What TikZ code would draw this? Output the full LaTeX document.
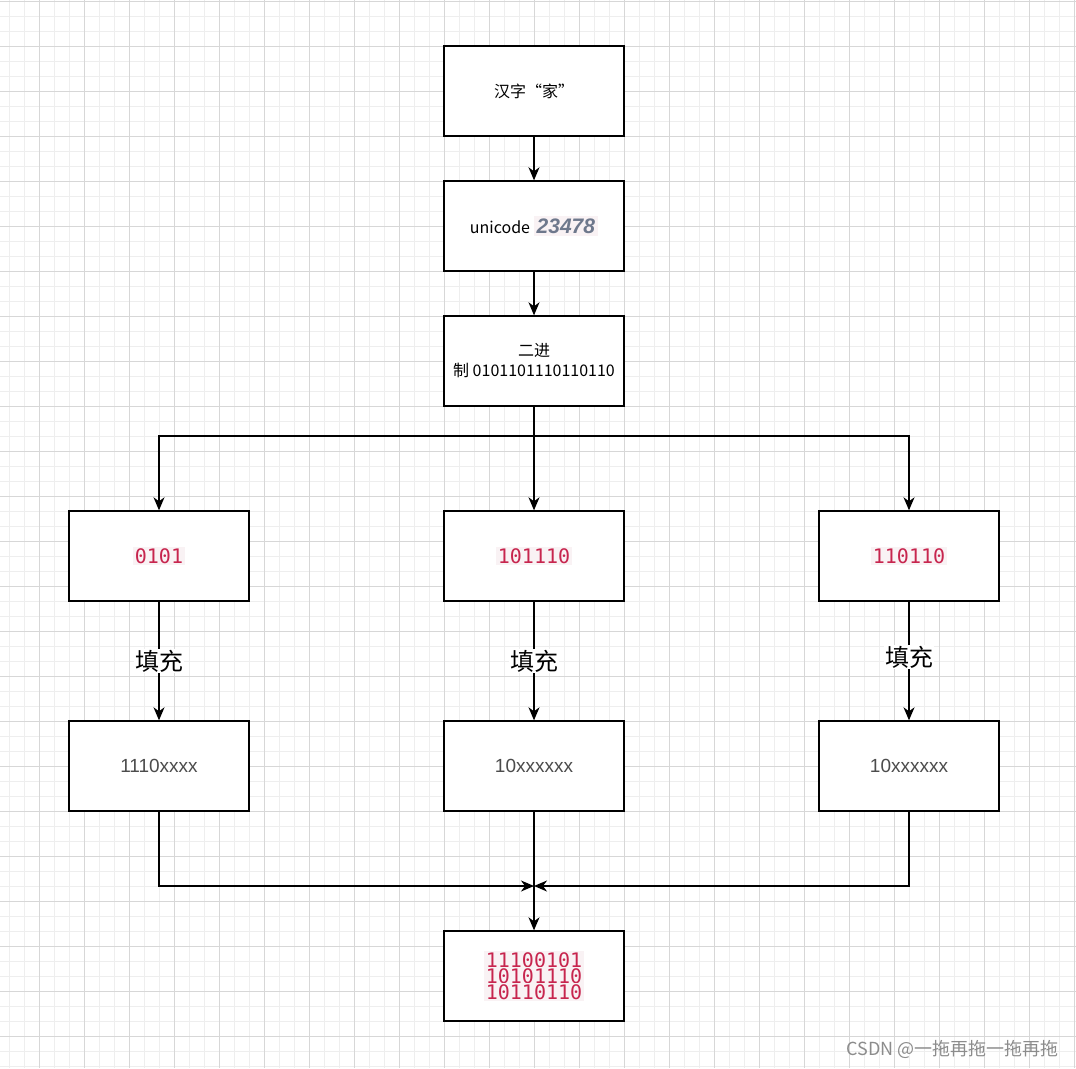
\documentclass[tikz,border=0pt]{standalone}
\usepackage{fontspec}
\setmainfont{Liberation Sans}
\newfontfamily\cjk{Noto Sans CJK SC}
\newfontfamily\codefont{DejaVu Sans Mono}
\usetikzlibrary{arrows.meta}
\definecolor{codered}{RGB}{199,37,78}
\definecolor{codebg}{RGB}{249,242,244}
\definecolor{gridcolor}{RGB}{215,215,215}
\definecolor{minorgrid}{RGB}{238,238,238}
\definecolor{numgray}{RGB}{110,120,140}

\newcommand{\codetext}[1]{\setlength{\fboxsep}{1.5pt}\colorbox{codebg}{\textcolor{codered}{\codefont\fontsize{20}{24}\selectfont #1}}}

\tikzset{
  box/.style={draw, line width=1.4pt, minimum width=180pt, minimum height=90pt, align=center, font=\cjk\fontsize{16}{20}\selectfont},
  link/.style={line width=1.4pt, -{Stealth[length=13pt,width=11pt,inset=4pt]}},
  fill label/.style={fill=white, font=\cjk\fontsize{24}{28}\selectfont, inner sep=1pt}
}

\begin{document}
\begin{tikzpicture}[x=1pt, y=-1pt]
        \useasboundingbox[fill=white] (0,0) rectangle (1076,1068);

        % background grid
        \foreach \gx in {9,24,...,1076} \draw[minorgrid, line width=0.5pt] (\gx,0) -- (\gx,1068);
        \foreach \gy in {1,16,...,1068} \draw[minorgrid, line width=0.5pt] (0,\gy) -- (1076,\gy);
        \foreach \gx in {39,84,...,1076} \draw[gridcolor, line width=0.7pt] (\gx,0) -- (\gx,1068);
        \foreach \gy in {1,46,...,1068} \draw[gridcolor, line width=0.7pt] (0,\gy) -- (1076,\gy);

        % top chain
        \node[box, fill=white] (hanzi) at (534,91) {汉字“家”};
        \node[box, fill=white] (unicode) at (534,226) {unicode \colorbox{codebg}{\textcolor{numgray}{\rmfamily\fontsize{21}{24}\selectfont\itshape\bfseries 23478}}};
        \node[box, fill=white] (binary) at (534,361) {二进\\制 0101101110110110};

        % split into three parts
        \node[box, fill=white] (partA) at (159,556) {\codetext{0101}};
        \node[box, fill=white] (partB) at (534,556) {\codetext{101110}};
        \node[box, fill=white] (partC) at (909,556) {\codetext{110110}};

        \node[box, fill=white, text=black!70] (fillA) at (159,766) {\rmfamily\fontsize{19}{22}\selectfont 1110xxxx};
        \node[box, fill=white, text=black!70] (fillB) at (534,766) {\rmfamily\fontsize{19}{22}\selectfont 10xxxxxx};
        \node[box, fill=white, text=black!70] (fillC) at (909,766) {\rmfamily\fontsize{19}{22}\selectfont 10xxxxxx};

        \node[box, fill=white] (result) at (534,976) {\codetext{11100101}\\[-4pt]\codetext{10101110}\\[-4pt]\codetext{10110110}};

        \coordinate (split) at (534,436);
        \coordinate (merge) at (534,886);

        \draw[link] (hanzi) -- (unicode);
        \draw[link] (unicode) -- (binary);
        \draw[link] (binary) -- (partB);
        \draw[link] (split) -| (partA);
        \draw[link] (split) -| (partC);

        \draw[link] (partA) -- node[fill label] {填充} (fillA);
        \draw[link] (partB) -- node[fill label] {填充} (fillB);
        \draw[link] (partC) -- node[fill label, yshift=4pt] {填充} (fillC);

        \draw[link] (fillA) |- (merge);
        \draw[link] (fillC) |- (merge);
        \draw[link] (fillB) -- (result);

        \node[anchor=east, text=black!45, font=\cjk\fontsize{18}{20}\selectfont] (mark) at (1062,1049) {CSDN @一拖再拖一拖再拖};
\end{tikzpicture}
\end{document}
